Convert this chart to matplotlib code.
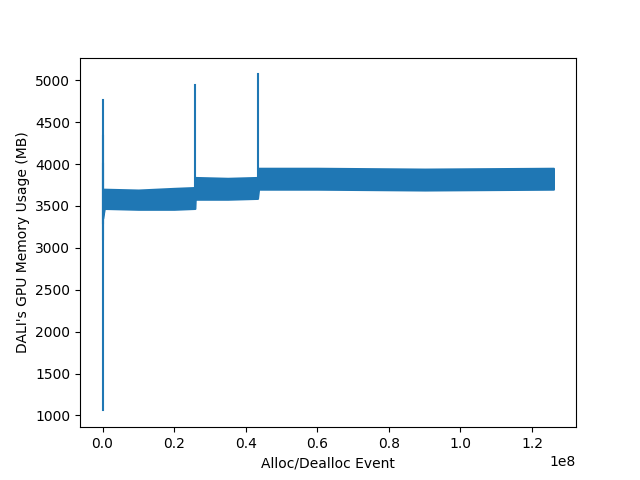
import matplotlib
matplotlib.use("Agg")
import matplotlib.pyplot as plt

# Envelope of the dense alloc/dealloc trace (values in MB)
band_x     = [0.0004e7, 0.05e7, 1.0e7, 2.0e7, 2.58e7, 2.59e7, 3.5e7, 4.33e7, 4.36e7, 6.0e7, 9.0e7, 12.6e7]
band_low   = [3350,     3470,   3460,  3460,  3470,   3580,   3580,  3590,   3700,   3700,  3690,  3700]
band_high  = [3700,     3700,   3690,  3710,  3720,   3840,   3830,  3840,   3950,   3950,  3940,  3950]

# Spikes (vertical excursions)
spike_x    = [0.0,   0.003e7, 0.01e7, 2.58e7, 4.34e7]
spike_low  = [1060,  3100,    3300,   3580,   3700]
spike_high = [4330,  4000,    4760,   4940,   5070]

c = "#1f77b4"
fig, ax = plt.subplots(figsize=(6.4, 4.8), dpi=100)
ax.fill_between(band_x, band_low, band_high, color=c, lw=1.5)
for x, lo, hi in zip(spike_x, spike_low, spike_high):
    ax.plot([x, x], [lo, hi], color=c, lw=1.5)
ax.set_xlabel("Alloc/Dealloc Event")
ax.set_ylabel("DALI's GPU Memory Usage (MB)")
fig.savefig("out.png")
